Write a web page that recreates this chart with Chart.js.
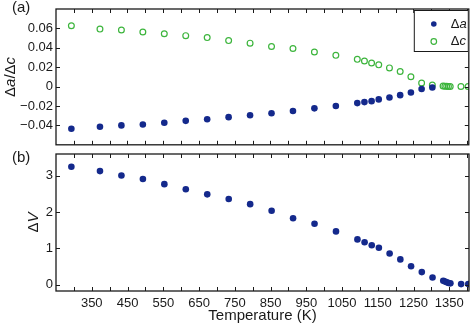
<!DOCTYPE html>
<html>
<head>
<meta charset="utf-8">
<script src="https://cdn.jsdelivr.net/npm/chart.js@4.4.1/dist/chart.umd.min.js"></script>
<style>
    body { margin: 0; background: #fff; }
    #wrap { position: relative; width: 474px; height: 325px; }
    canvas { position: absolute; left: 0; }
</style>
</head>
<body>
<div id="wrap">
    <canvas id="panelA" width="474" height="150" style="top:0"></canvas>
    <canvas id="panelB" width="474" height="175" style="top:150px"></canvas>
</div>
<script>
// Temperatures (K)
const tempsA = [293, 373, 433, 493, 553, 613, 673, 733, 793, 853, 913, 973, 1033,
    1093, 1113, 1133, 1153, 1183, 1213, 1243, 1273, 1303];
const tempsHigh = [1333, 1338, 1343, 1348, 1353, 1383, 1403];
const tempsAll = tempsA.concat(tempsHigh);

// Lattice parameter changes
const deltaA = [-0.0434, -0.0414, -0.0400, -0.0390, -0.0373, -0.0353, -0.0336, -0.0315,
    -0.0295, -0.0275, -0.0251, -0.0224, -0.0200, -0.0170, -0.0160, -0.0150, -0.0132,
    -0.0112, -0.0088, -0.0061, -0.0024, -0.0010];
const deltaC = [0.0627, 0.0593, 0.0583, 0.0563, 0.0545, 0.0525, 0.0505, 0.0474, 0.0448,
    0.0413, 0.0393, 0.0356, 0.0322, 0.0281, 0.0264, 0.0244, 0.0224, 0.0193, 0.0156,
    0.0102, 0.0037, 0.0016, 0.0005, 0.0004, 0.0003, 0.0002, 0.0001, 0.0001, 0.0001];

// Volume change
const deltaV = [3.25, 3.13, 3.01, 2.91, 2.77, 2.63, 2.49, 2.36, 2.22, 2.04, 1.83, 1.68,
    1.47, 1.25, 1.17, 1.09, 1.02, 0.86, 0.70, 0.51, 0.35, 0.20, 0.11, 0.09, 0.07, 0.05,
    0.04, 0.02, 0.02];

// Tick positions
const xTicks = [300, 350, 400, 450, 500, 550, 600, 650, 700, 750, 800, 850, 900, 950,
    1000, 1050, 1100, 1150, 1200, 1250, 1300, 1350, 1400];
const yTicksA = [-0.04, -0.02, 0, 0.02, 0.04, 0.06];
const yTicksB = [0, 1, 2, 3];

const FONT = '"Liberation Sans", Arial, Helvetica, sans-serif';
const INK = '#1a1a1a';
const BLUE = '#14298c';
const GREEN = '#3db53d';

const toPoints = (xs, ys) => ys.map((v, i) => ({ x: xs[i], y: v }));

// Draw a string made of upright/italic pieces, centred on (0,0)
function drawMixed(ctx, parts, size) {
    let total = 0;
    parts.forEach(p => {
        ctx.font = (p.i ? 'italic ' : '') + size + 'px ' + FONT;
        p.w = ctx.measureText(p.t).width;
        total += p.w;
    });
    let x = -total / 2;
    parts.forEach(p => {
        ctx.font = (p.i ? 'italic ' : '') + size + 'px ' + FONT;
        ctx.fillText(p.t, x, 0);
        x += p.w;
    });
}

function drawLegendLabel(ctx, parts, x0, y0) {
    let x = x0;
    parts.forEach(p => {
        ctx.font = (p.i ? 'italic ' : '') + '13px ' + FONT;
        ctx.fillText(p.t, x, y0);
        x += ctx.measureText(p.t).width;
    });
}

// Box frame, inward ticks, axis titles, panel tag and legend
const framePlugin = {
    id: 'frame',
    afterDraw(chart, args, opts) {
        const { ctx, chartArea: a, scales: { x, y } } = chart;
        ctx.save();
        ctx.strokeStyle = INK;
        ctx.fillStyle = INK;
        ctx.lineWidth = 1;
        ctx.beginPath();
        xTicks.forEach(v => {
            const px = Math.round(x.getPixelForValue(v)) + 0.5;
            ctx.moveTo(px, a.bottom); ctx.lineTo(px, a.bottom - 4);
            ctx.moveTo(px, a.top); ctx.lineTo(px, a.top + 4);
        });
        opts.yTicks.forEach(v => {
            const py = Math.round(y.getPixelForValue(v)) + 0.5;
            ctx.moveTo(a.left, py); ctx.lineTo(a.left + 4, py);
            ctx.moveTo(a.right, py); ctx.lineTo(a.right - 4, py);
        });
        ctx.stroke();
        ctx.lineWidth = 1.3;
        ctx.strokeRect(a.left, a.top, a.right - a.left, a.bottom - a.top);

        ctx.textBaseline = 'middle';
        ctx.textAlign = 'left';
        ctx.font = '15px ' + FONT;
        ctx.fillText(opts.tag, 12, opts.tagY);

        // y title, rotated
        ctx.save();
        ctx.translate(opts.titleX, (a.top + a.bottom) / 2);
        ctx.rotate(-Math.PI / 2);
        drawMixed(ctx, opts.yTitle, 15);
        ctx.restore();

        if (opts.xTitle) {
            ctx.textAlign = 'center';
            ctx.font = '15px ' + FONT;
            ctx.fillText(opts.xTitle, (a.left + a.right) / 2, opts.xTitleY);
        }

        if (opts.legend) {
            const lx = a.right - 55, ly = a.top + 1, lw = 55, lh = 42;
            ctx.fillStyle = '#fff';
            ctx.fillRect(lx, ly, lw, lh);
            ctx.lineWidth = 1;
            ctx.strokeStyle = INK;
            ctx.strokeRect(lx + 0.5, ly + 0.5, lw - 1, lh - 1);
            chart.data.datasets.forEach((ds, i) => {
                const cy = ly + 14 + i * 17.5;
                ctx.beginPath();
                ctx.arc(lx + 20, cy, 2.8, 0, Math.PI * 2);
                if (ds.pointBorderWidth) {
                    ctx.lineWidth = ds.pointBorderWidth;
                    ctx.strokeStyle = ds.pointBorderColor;
                    ctx.stroke();
                } else {
                    ctx.fillStyle = ds.pointBackgroundColor;
                    ctx.fill();
                }
                ctx.fillStyle = INK;
                ctx.textAlign = 'left';
                ctx.textBaseline = 'middle';
                drawLegendLabel(ctx, ds.labelParts, lx + 37, cy);
            });
        }
        ctx.restore();
    }
};

function fmtA(v) {
    if (v === 0) return '0';
    return (v < 0 ? '\u2212' : '') + Math.abs(v).toFixed(2);
}

// no extra room for half-labels at the axis ends
function noEdgePadding(s) {
    s.paddingTop = 0;
    s.paddingBottom = 0;
    s.paddingLeft = 0;
    s.paddingRight = 0;
}

function xScale(show) {
    return {
        type: 'linear',
        min: 250,
        max: 1405,
        display: show,
        afterBuildTicks: s => { s.ticks = xTicks.map(v => ({ value: v })); },
        afterFit: s => {
            if (show) s.height = 34;
            noEdgePadding(s);
        },
        grid: { display: false, drawTicks: false },
        border: { display: false },
        ticks: {
            autoSkip: false,
            maxRotation: 0,
            padding: 5,
            color: INK,
            font: { family: FONT, size: 13 },
            callback: v => ((v - 350) % 100 === 0 ? String(v) : '')
        }
    };
}

function yScale(min, max, ticks, fmt) {
    return {
        type: 'linear',
        min: min,
        max: max,
        afterBuildTicks: s => { s.ticks = ticks.map(v => ({ value: v })); },
        afterFit: s => {
            s.width = 56;
            noEdgePadding(s);
        },
        grid: { display: false, drawTicks: false },
        border: { display: false },
        ticks: {
            padding: 3,
            color: INK,
            font: { family: FONT, size: 13 },
            callback: fmt
        }
    };
}

const baseOptions = {
    responsive: false,
    animation: false,
    events: [],
    plugins: { legend: { display: false }, tooltip: { enabled: false } }
};

// (a) lattice parameters
new Chart(document.getElementById('panelA'), {
    type: 'scatter',
    data: {
        datasets: [{
            labelParts: [{ t: '\u0394' }, { t: 'a', i: true }],
            data: toPoints(tempsA, deltaA),
            pointRadius: 3.3,
            pointBackgroundColor: BLUE,
            pointBorderWidth: 0
        }, {
            labelParts: [{ t: '\u0394' }, { t: 'c', i: true }],
            data: toPoints(tempsAll, deltaC),
            pointRadius: 2.9,
            pointBackgroundColor: 'rgba(0,0,0,0)',
            pointBorderColor: GREEN,
            pointBorderWidth: 1.2
        }]
    },
    options: {
        ...baseOptions,
        layout: { padding: { left: 0, right: 5, top: 9, bottom: 3.3 } },
        scales: {
            x: xScale(false),
            y: yScale(-0.06, 0.08, yTicksA, fmtA)
        },
        plugins: {
            ...baseOptions.plugins,
            frame: {
                yTicks: yTicksA,
                tag: '(a)',
                tagY: 8,
                titleX: 11,
                yTitle: [{ t: '\u0394' }, { t: 'a', i: true }, { t: '/\u0394' }, { t: 'c', i: true }],
                legend: true
            }
        }
    },
    plugins: [framePlugin]
});

// (b) volume
new Chart(document.getElementById('panelB'), {
    type: 'scatter',
    data: {
        datasets: [{
            data: toPoints(tempsAll, deltaV),
            pointRadius: 3.3,
            pointBackgroundColor: BLUE,
            pointBorderWidth: 0
        }]
    },
    options: {
        ...baseOptions,
        layout: { padding: { left: 0, right: 5, top: 3.3, bottom: 0 } },
        scales: {
            x: xScale(true),
            y: yScale(-0.17, 3.6, yTicksB, v => String(v))
        },
        plugins: {
            ...baseOptions.plugins,
            frame: {
                yTicks: yTicksB,
                tag: '(b)',
                tagY: 7.5,
                titleX: 34,
                yTitle: [{ t: '\u0394' }, { t: 'V', i: true }],
                xTitle: 'Temperature (K)',
                xTitleY: 166
            }
        }
    },
    plugins: [framePlugin]
});
</script>
</body>
</html>
